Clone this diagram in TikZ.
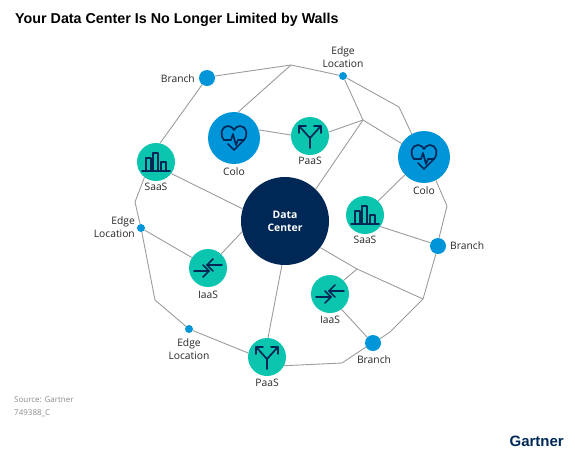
\documentclass[tikz,border=0pt]{standalone}
\usepackage{fontspec}
\setmainfont{Open Sans}
\newfontfamily\headfont{Liberation Sans}
\usepackage{xcolor}
\usetikzlibrary{positioning,arrows.meta}
\definecolor{navy}{HTML}{002856}
\definecolor{skyblue}{HTML}{0095D8}
\definecolor{teal}{HTML}{0BC5AE}
\definecolor{wire}{HTML}{9C9C9C}
\definecolor{note}{HTML}{8A8A8A}

\tikzset{
  iconline/.style={draw=navy, line width=1.7pt, line cap=round, line join=round},
  heart/.pic={
    \draw[iconline] (-10,2) .. controls (-15,-4) and (-12,-12) .. (-6,-12) .. controls (-3,-12) and (-1,-10) .. (0,-8) .. controls (1,-10) and (3,-12) .. (6,-12) .. controls (12,-12) and (15,-4) .. (10,2) -- (0,12) -- (-6,6);
    \draw[iconline] (-10,2) -- (-3,2) -- (-1,-4) -- (2,7) -- (4,2) -- (10,2);
  },
  bars/.pic={
    \draw[iconline] (-14,9) -- (14,9);
    \draw[iconline] (-10,9) -- (-10,-4) -- (-5,-4) -- (-5,9);
    \draw[iconline] (-3,9) -- (-3,-9) -- (2,-9) -- (2,9);
    \draw[iconline] (5,9) -- (5,0) -- (10,0) -- (10,9);
  },
  fork/.pic={
    \draw[iconline] (0,12) -- (0,2) -- (-10,-9);
    \draw[iconline] (0,2) -- (10,-9);
    \draw[iconline] (-11,-3) -- (-11,-10) -- (-4,-10);
    \draw[iconline] (11,-3) -- (11,-10) -- (4,-10);
  },
  merge/.pic={
    \draw[iconline] (-14,3) -- (1,3);
    \draw[iconline] (-5,-3) -- (1,3) -- (-5,9);
    \draw[iconline] (14,-3) -- (-1,-3);
    \draw[iconline] (5,-9) -- (-1,-3) -- (5,3);
  }
}

\begin{document}
\begin{tikzpicture}[
  x=1pt, y=-1pt,
  hub/.style={circle, fill=navy, text=white, minimum size=88pt, inner sep=0pt, align=center, font=\fontsize{10.4}{13}\selectfont\bfseries},
  colo/.style={circle, fill=skyblue, minimum size=52pt, inner sep=0pt},
  svc/.style={circle, fill=teal, minimum size=38pt, inner sep=0pt},
  branch/.style={circle, fill=skyblue, minimum size=16pt, inner sep=0pt},
  edgeloc/.style={circle, fill=skyblue, minimum size=8pt, inner sep=0pt},
  tag/.style={text=black!85, align=center, inner sep=0pt, font=\fontsize{10.3}{12.5}\selectfont},
  link/.style={draw=wire, line width=0.9pt, line join=round}
]
\useasboundingbox (0,0) rectangle (575,453);

\node[anchor=west, inner sep=0pt, font=\headfont\fontsize{14.3}{18}\selectfont\bfseries] (title) at (15,20) {Your Data Center Is No Longer Limited by Walls};

\node[hub] (dc) at (285,221) {Data\\Center};
\node[colo] (coloa) at (234,138) {};
\node[colo] (colob) at (424,157) {};
\node[svc] (paasa) at (310,136) {};
\node[svc] (paasb) at (267,357) {};
\node[svc] (saasa) at (156,162) {};
\node[svc] (saasb) at (365,215) {};
\node[svc] (iaasa) at (208,268) {};
\node[svc] (iaasb) at (330,294) {};
\node[branch] (brancha) at (207,78) {};
\node[branch] (branchb) at (438,246) {};
\node[branch] (branchc) at (373,343) {};
\node[edgeloc] (edgea) at (343,76) {};
\node[edgeloc] (edgeb) at (141,228) {};
\node[edgeloc] (edgec) at (189,329) {};

\coordinate (jtop) at (291,65);
\coordinate (jmid) at (363,120);
\coordinate (jne) at (399,107);
\coordinate (jeast) at (447,206);
\coordinate (jse) at (423,299);
\coordinate (jlow) at (390,332);
\coordinate (jsouth) at (342,363);
\coordinate (jfork) at (357,269);
\coordinate (jwest) at (135,202);
\coordinate (jsw) at (155,300);

% outer ring
\draw[link] (brancha.14) -- (jtop) -- (edgea);
\draw[link] (edgea) -- (jne) -- (colob.118);
\draw[link] (colob.-63) -- (jeast) -- (branchb.83);
\draw[link] (branchb.-105) -- (jse) -- (jlow) -- (branchc.32);
\draw[link] (branchc.210) -- (jsouth) -- (paasb.-27);
\draw[link] (paasb.168) -- (edgec);
\draw[link] (edgec) -- (jsw) -- (edgeb);
\draw[link] (edgeb) -- (jwest) -- (saasa.233);
\draw[link] (saasa.78) -- (brancha.234);
% inner links
\draw[link] (jtop) -- (coloa.81);
\draw[link] (coloa.18) -- (paasa.177);
\draw[link] (paasa.12) -- (jmid);
\draw[link] (edgea) -- (jmid);
\draw[link] (jmid) -- (colob.149);
\draw[link] (jmid) -- (dc.46);
\draw[link] (colob.223) -- (saasb.47);
\draw[link] (saasb.-37) -- (branchb.157);
\draw[link] (saasa.-37) -- (dc.164);
\draw[link] (edgeb) -- (iaasa.147);
\draw[link] (iaasa.47) -- (dc.194);
\draw[link] (dc.-94) -- (paasb.87);
\draw[link] (dc.-37) -- (jfork) -- (jse);
\draw[link] (jfork) -- (iaasb.45);
\draw[link] (iaasb.-53) -- (branchc.135);

\pic at (coloa) {heart};
\pic at (colob) {heart};
\pic at (saasa) {bars};
\pic at (saasb) {bars};
\pic at (paasa) {fork};
\pic at (paasb) {fork};
\pic at (iaasa) {merge};
\pic at (iaasb) {merge};

\node[tag] (lcoloa) at (234,172) {Colo};
\node[tag] (lcolob) at (424,191) {Colo};
\node[tag] (lpaasa) at (310,161) {PaaS};
\node[tag] (lpaasb) at (267,383) {PaaS};
\node[tag] (lsaasa) at (156,187) {SaaS};
\node[tag] (lsaasb) at (365,240) {SaaS};
\node[tag] (liaasa) at (208,295) {IaaS};
\node[tag] (liaasb) at (330,320) {IaaS};
\node[tag, anchor=east] (lbrancha) at (195,79) {Branch};
\node[tag, anchor=west] (lbranchb) at (450,246) {Branch};
\node[tag] (lbranchc) at (374,360) {Branch};
\node[tag] (ledgea) at (343,57) {Edge\\Location};
\node[tag, anchor=east, align=right] (ledgeb) at (135,227) {Edge\\Location};
\node[tag] (ledgec) at (189,349) {Edge\\Location};

\node[anchor=west, inner sep=0pt, text=note, font=\fontsize{8}{9}\selectfont] (source) at (14,400) {Source: Gartner};
\node[anchor=west, inner sep=0pt, text=note, font=\fontsize{8}{9}\selectfont] (code) at (14,413) {749388\_C};
\node[anchor=east, inner sep=0pt, text=navy, font=\headfont\fontsize{15}{18}\selectfont\bfseries] (logo) at (564,441) {Gartner};
\end{tikzpicture}
\end{document}
